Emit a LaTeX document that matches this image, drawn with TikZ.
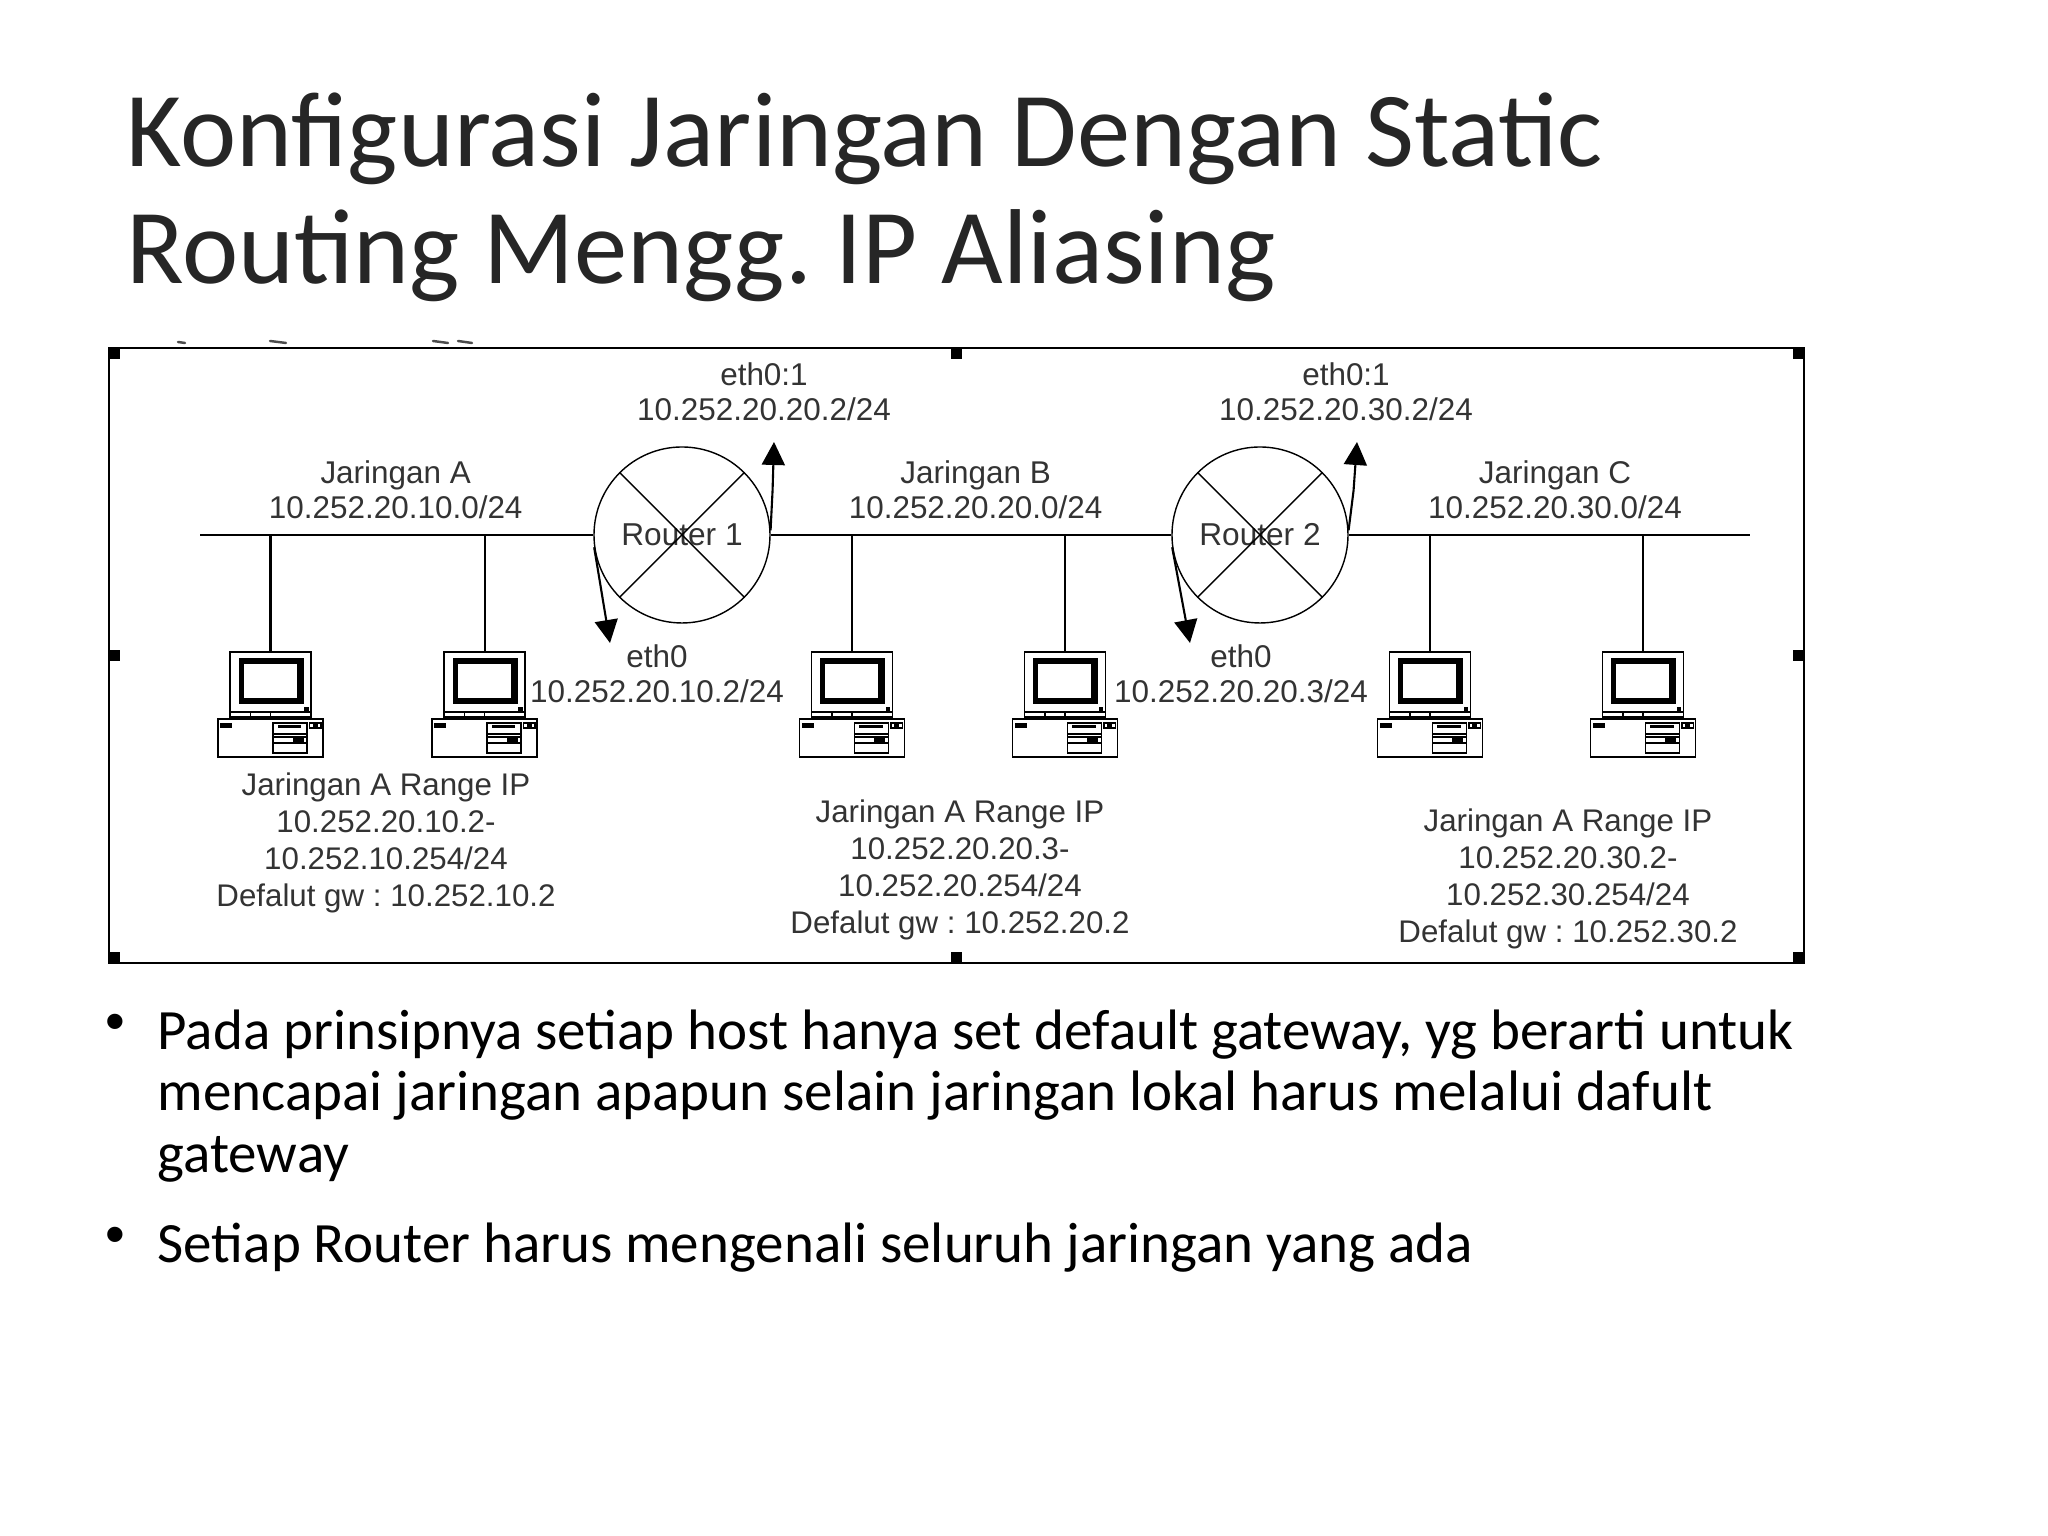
\documentclass[tikz,border=0pt]{standalone}
\usepackage{fontspec}
\setmainfont{Liberation Sans}
\newfontfamily\slidefont{Carlito}
\usetikzlibrary{positioning, shapes, arrows.meta, calc}

\definecolor{labelgray}{gray}{0.2}
\frenchspacing

\tikzset{
    handle/.style={fill=black, inner sep=0pt, minimum width=0.11cm, minimum height=0.11cm},
    stray mark/.style={draw=black!70, line width=0.7pt, line cap=round},
    net line/.style={line width=0.6pt},
    label text/.style={align=center, text=labelgray, inner sep=0pt,
        font=\fontsize{8.95}{10}\selectfont},
    range text/.style={align=center, text=labelgray, inner sep=0pt,
        font=\fontsize{8.9}{10.6}\selectfont},
    router/.style={draw, circle, inner sep=0pt, minimum size=1.76cm, text=labelgray,
        font=\fontsize{9}{10}\selectfont},
    slide arrow/.style={-{Triangle[width=0.23cm, length=0.23cm]}, line width=0.6pt},
    title text/.style={align=left, anchor=north west, inner sep=0pt, text=black!85,
        font=\slidefont\fontsize{30.3}{33.3}\selectfont},
    body text/.style={align=left, anchor=north west, inner sep=0pt,
        font=\slidefont\fontsize{16.22}{17.5}\selectfont},
    dot text/.style={anchor=center, inner sep=0pt,
        font=\fontsize{16}{16}\selectfont},
    pics/host/.style={code={
        \node[draw, line width=0.5pt, minimum width=0.81cm, minimum height=0.65cm,
            anchor=north] (-mon) at (0,0) {};
        \fill (-0.32,-0.07) rectangle (0.33,-0.53);
        \fill[white] (-0.27,-0.13) rectangle (0.26,-0.47);
        \fill (0.335,-0.56) rectangle (0.38,-0.61);
        \draw[line width=0.5pt] (-0.405,-0.61) -- (0.405,-0.61);
        \draw[line width=0.5pt] (-0.2,-0.61) -- (-0.2,-0.65);
        \draw[line width=0.5pt] (0,-0.61) -- (0,-0.65);
        \draw[line width=0.5pt] (-0.3,-0.65) -- (-0.3,-0.68);
        \draw[line width=0.5pt] (0.31,-0.65) -- (0.31,-0.68);
        \draw[line width=0.5pt] (-0.525,-0.68) rectangle (0.525,-1.06);
        \fill (-0.505,-0.72) rectangle (-0.385,-0.77);
        \draw[line width=0.5pt] (0.39,-0.72) rectangle (0.505,-0.77);
        \fill (0.42,-0.735) rectangle (0.47,-0.76);
        \draw[line width=0.5pt] (0.025,-0.72) rectangle (0.365,-1.02);
        \fill (0.07,-0.745) rectangle (0.305,-0.775);
        \draw[line width=0.5pt] (0.025,-0.83) -- (0.365,-0.83);
        \draw[line width=0.5pt] (0.025,-0.86) -- (0.365,-0.86);
        \draw[line width=0.5pt] (0.025,-0.92) -- (0.365,-0.92);
        \fill (0.22,-0.86) rectangle (0.33,-0.91);
    }},
}

\begin{document}
\begin{tikzpicture}
\useasboundingbox (0,0) rectangle (20.48,15.36);

\node[title text] (title) at (1.26,14.44) {Konfigurasi Jaringan Dengan Static\\Routing Mengg. IP Aliasing};

% picture frame
\node[draw, line width=0.6pt,
        minimum width=16.95cm,
        minimum height=6.15cm] (frame) at (9.565,8.805) {};

\node[handle, anchor=north west] (hNW) at (frame.north west) {};
\node[handle, anchor=north] (hN) at (frame.north) {};
\node[handle, anchor=north east] (hNE) at (frame.north east) {};
\node[handle, anchor=west] (hW) at (frame.west) {};
\node[handle, anchor=east] (hE) at (frame.east) {};
\node[handle, anchor=south west] (hSW) at (frame.south west) {};
\node[handle, anchor=south] (hS) at (frame.south) {};
\node[handle, anchor=south east] (hSE) at (frame.south east) {};

% cut off marks above the frame
\draw[stray mark] (1.78,11.94) -- (1.85,11.93);
\draw[stray mark] (2.7,11.95) -- (2.86,11.93);
\draw[stray mark] (4.33,11.95) -- (4.48,11.93);
\draw[stray mark] (4.58,11.95) -- (4.72,11.93);

% routers
\node[router] (R1) at (6.82,10.01) {Router 1};
\node[router] (R2) at (12.6,10.01) {Router 2};

\draw (R1.135) -- (R1.-45);
\draw (R1.45) -- (R1.-135);
\draw (R2.135) -- (R2.-45);
\draw (R2.45) -- (R2.-135);

% network lines
\coordinate (busL) at (2.0,10.01);
\coordinate (busR) at (17.5,10.01);

\draw[net line] (busL) -- (R1.west);
\draw[net line] (R1.east) -- (R2.west);
\draw[net line] (R2.east) -- (busR);

% hosts
\pic (H1) at (2.705,8.85) {host};
\pic (H2) at (4.846,8.85) {host};
\pic (H3) at (8.52,8.85) {host};
\pic (H4) at (10.65,8.85) {host};
\pic (H5) at (14.3,8.85) {host};
\pic (H6) at (16.43,8.85) {host};

\draw[net line] (H1-mon.north |- busL) -- (H1-mon.north);
\draw[net line] (H2-mon.north |- busL) -- (H2-mon.north);
\draw[net line] (H3-mon.north |- busL) -- (H3-mon.north);
\draw[net line] (H4-mon.north |- busL) -- (H4-mon.north);
\draw[net line] (H5-mon.north |- busL) -- (H5-mon.north);
\draw[net line] (H6-mon.north |- busL) -- (H6-mon.north);

% interface arrows
\coordinate (R1up) at (7.74,10.94);
\coordinate (R1dn) at (6.1,8.93);
\coordinate (R2up) at (13.57,10.94);
\coordinate (R2dn) at (11.9,8.93);

\draw[slide arrow] (R1.3) -- ++(0.02,0.4) -- (R1up);
\draw[slide arrow] (R1.188) -- (R1dn);
\draw[slide arrow] (R2.3) -- ++(0.05,0.4) -- (R2up);
\draw[slide arrow] (R2.188) -- (R2dn);

% labels
\node[label text] (netA) at (3.957,10.46) {Jaringan A\\10.252.20.10.0/24};
\node[label text] (netB) at (9.756,10.46) {Jaringan B\\10.252.20.20.0/24};
\node[label text] (netC) at (15.55,10.46) {Jaringan C\\10.252.20.30.0/24};

\node[label text] (if1a) at (7.64,11.44) {eth0:1\\10.252.20.20.2/24};
\node[label text] (if2a) at (13.46,11.44) {eth0:1\\10.252.20.30.2/24};
\node[label text] (if1b) at (6.57,8.62) {eth0\\10.252.20.10.2/24};
\node[label text] (if2b) at (12.41,8.62) {eth0\\10.252.20.20.3/24};

\node[range text] (rangeA) at (3.86,6.93) {Jaringan A Range IP\\10.252.20.10.2-\\10.252.10.254/24\\Defalut gw :  10.252.10.2};
\node[range text] (rangeB) at (9.6,6.66) {Jaringan A Range IP\\10.252.20.20.3-\\10.252.20.254/24\\Defalut gw :  10.252.20.2};
\node[range text] (rangeC) at (15.68,6.57) {Jaringan A Range IP\\10.252.20.30.2-\\10.252.30.254/24\\Defalut gw :  10.252.30.2};

% bullets
\node[dot text] (dot1) at (1.155,5.09) {•};
\node[body text] (item1) at (1.57,5.27) {Pada prinsipnya setiap host hanya set default gateway, yg berarti untuk\\mencapai jaringan apapun selain jaringan lokal harus melalui dafult\\gateway};
\node[dot text] (dot2) at (1.155,2.96) {•};
\node[body text] (item2) at (1.57,3.14) {Setiap Router harus mengenali seluruh jaringan yang ada};

\end{tikzpicture}
\end{document}
